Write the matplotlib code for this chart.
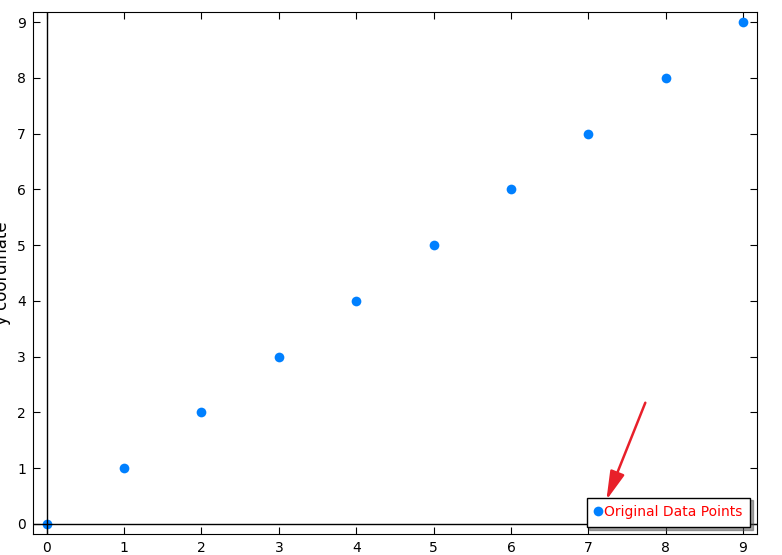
import matplotlib.pyplot as plt

x = [0, 1, 2, 3, 4, 5, 6, 7, 8, 9]
y = [0, 1, 2, 3, 4, 5, 6, 7, 8, 9]

fig = plt.figure(figsize=(7.82, 5.55), dpi=100)
ax = fig.add_axes([0.042, 0.038, 0.926, 0.940])

ax.plot(x, y, 'o', color='#0080ff', markersize=7, markeredgewidth=0, label='Original Data Points')
ax.axhline(0, color='black', linewidth=1)
ax.axvline(0, color='black', linewidth=1)
ax.margins(0.02)

ax.tick_params(direction='in', top=True, right=True, length=5, labelsize=10, pad=5)
ax.set_xticks(range(10))
ax.set_yticks(range(10))
ax.set_ylabel('y coordinate', fontsize=12)

leg = ax.legend(loc='lower right', numpoints=1, fancybox=False, shadow=True,
                fontsize=10, borderpad=0.55, handletextpad=0.1, handlelength=0.6,
                borderaxespad=0.5)
leg.get_frame().set_edgecolor('black')
for t in leg.get_texts():
    t.set_color('red')

ax.annotate('', xy=(7.22, 0.38), xytext=(7.75, 2.22),
            arrowprops=dict(arrowstyle='-|>,head_length=0.7,head_width=0.18',
                            color='#e8202a', lw=1.8, mutation_scale=25))

fig.savefig('out.png', dpi=100)
